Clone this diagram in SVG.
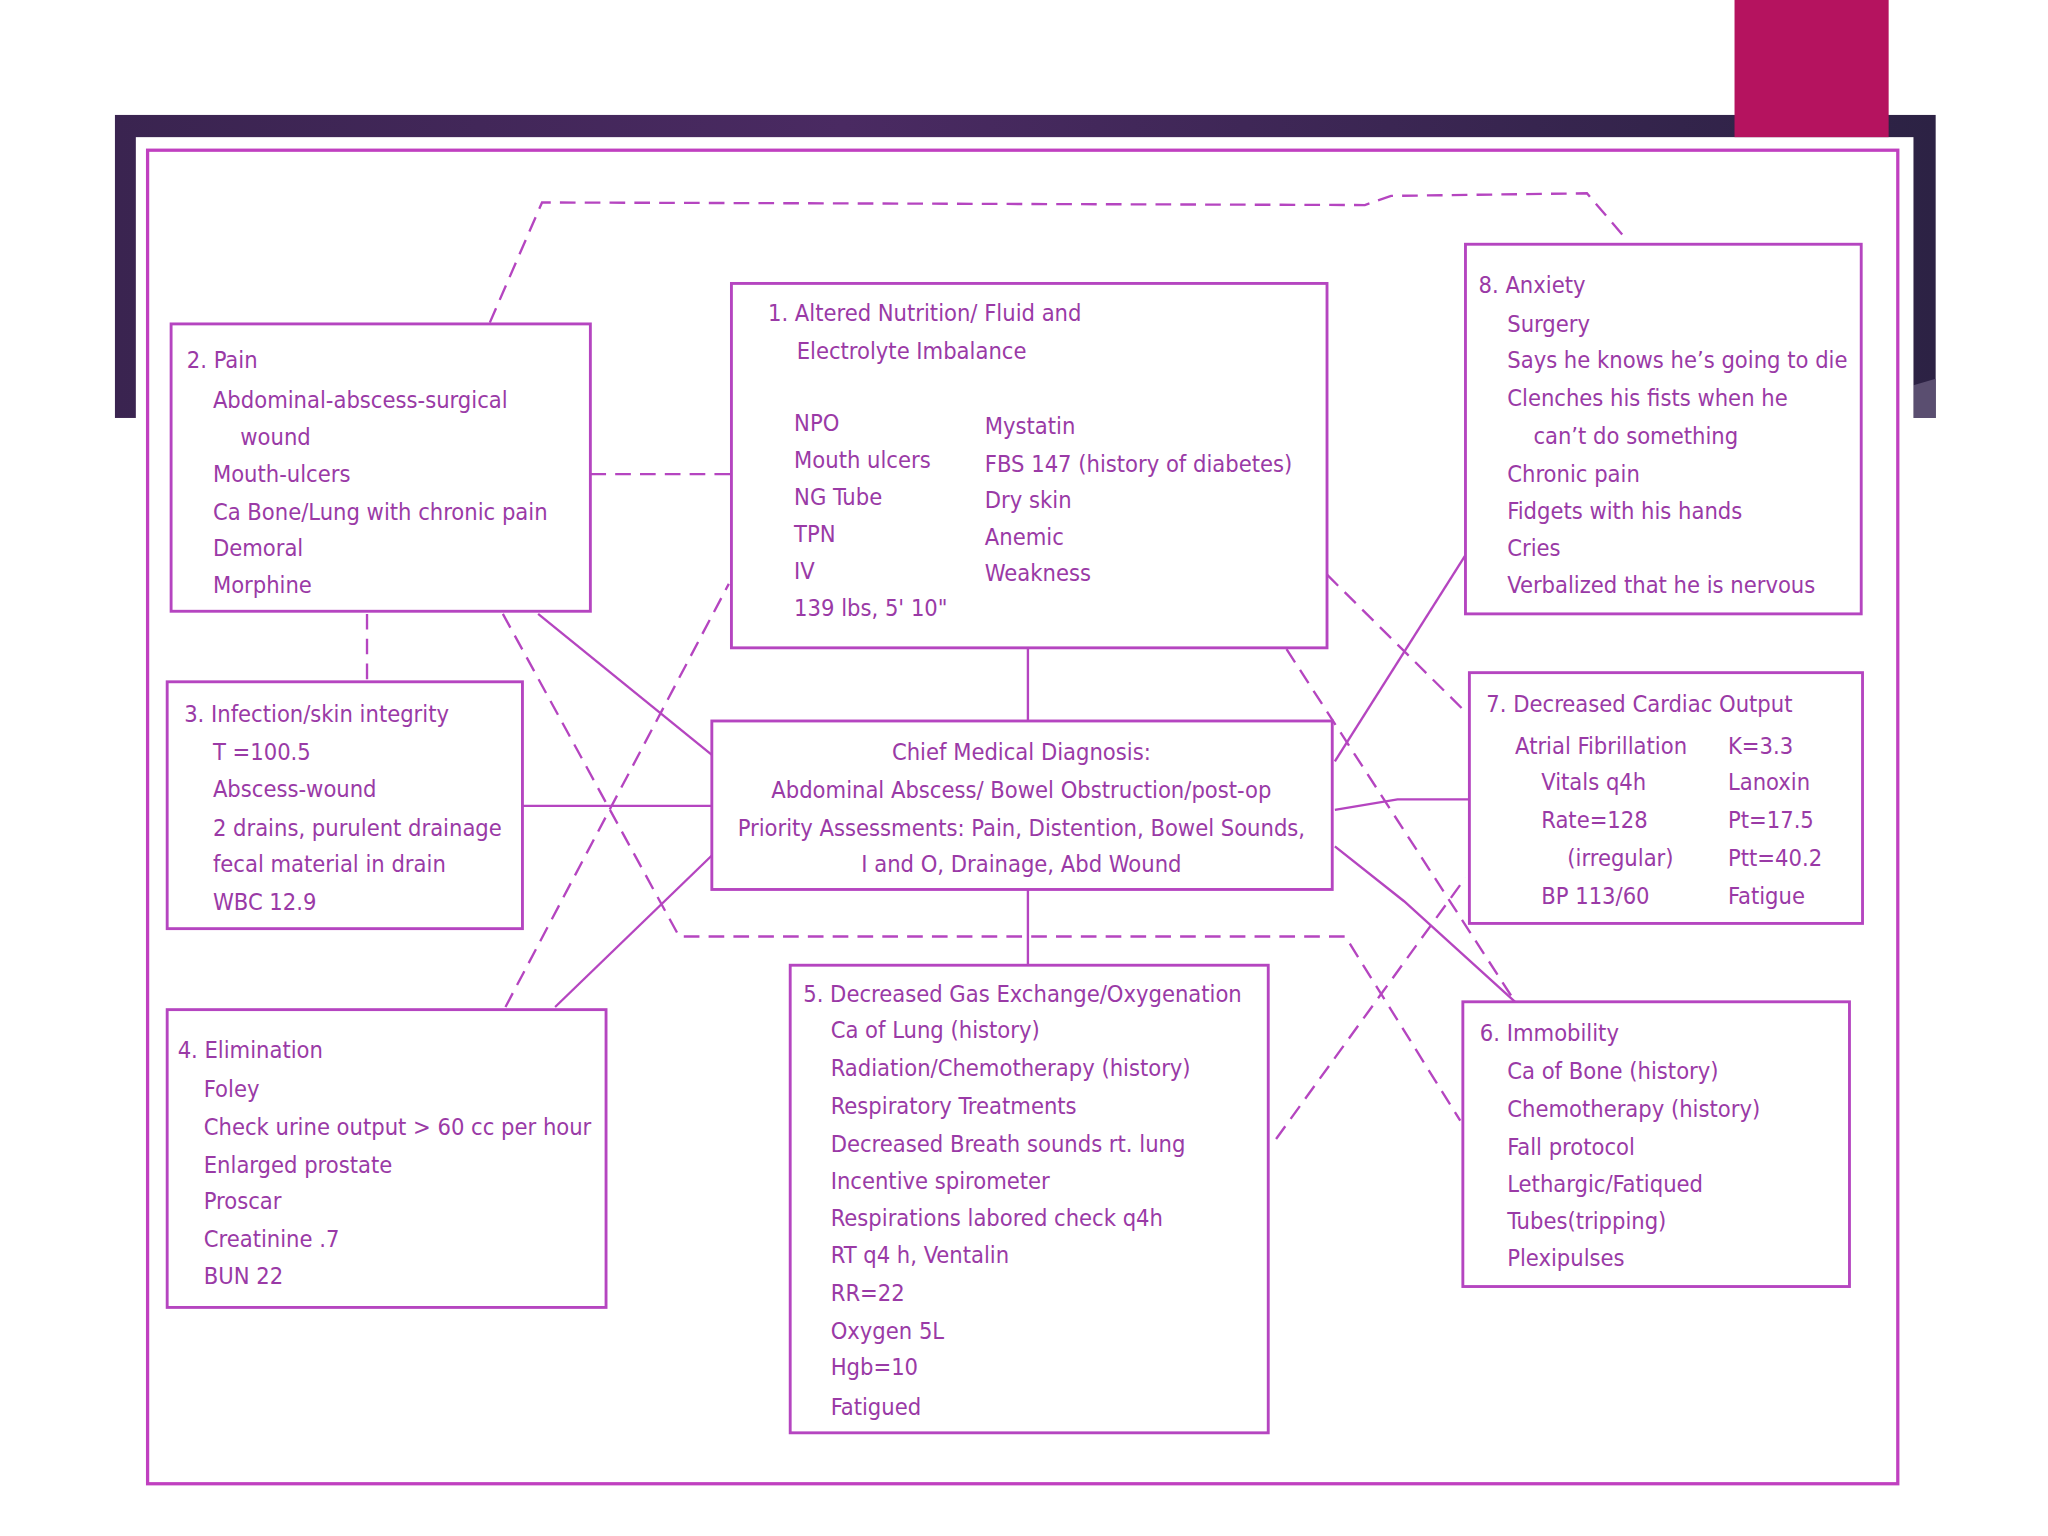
<svg xmlns="http://www.w3.org/2000/svg" width="2048" height="1536" viewBox="0 0 2048 1536">
<defs>
<linearGradient id="band" x1="0" y1="0" x2="1" y2="0">
<stop offset="0" stop-color="#3a2450"/><stop offset="0.4" stop-color="#4a2a62"/><stop offset="1" stop-color="#2c2244"/>
</linearGradient>
<style>
.box{fill:#fff;stroke:#b545c0;stroke-width:2.2}
.t{font-family:"Liberation Sans Narrow","DejaVu Sans Condensed",sans-serif;font-size:18px;fill:#9a3aa6}
.c{text-anchor:middle}
.s{fill:none;stroke:#b545c0;stroke-width:1.8}
.d{fill:none;stroke:#b545c0;stroke-width:1.8;stroke-dasharray:12 7}
</style>
</defs>
<rect width="2048" height="1536" fill="#fff"/>
<g transform="scale(1.30612)">
<rect x="88" y="88" width="1394" height="232" fill="url(#band)"/>
<polygon points="1465,295 1482,290 1482,320 1465,320" fill="#5a4e70"/>
<rect x="104" y="105" width="1361" height="1050" fill="#fff"/>
<rect x="1328" y="0" width="118" height="105" fill="#b5135f"/>
<rect x="113" y="115" width="1340" height="1021" fill="none" stroke="#c040c0" stroke-width="2.5"/>

<g id="connectors">
<polyline class="d" points="375,247 415,155 1045,157 1065,150 1215,148 1245,183"/>
<line class="d" x1="452" y1="363" x2="560" y2="363"/>
<line class="d" x1="281" y1="470" x2="281" y2="520"/>
<polyline class="d" points="385,470 520,717 1030,717 1118,858"/>
<line class="d" x1="387" y1="771" x2="558" y2="447"/>
<line class="d" x1="1016" y1="440" x2="1122" y2="545"/>
<line class="d" x1="985" y1="497" x2="1160" y2="767"/>
<line class="d" x1="977" y1="872" x2="1122" y2="672"/>
<line class="s" x1="412" y1="470" x2="545" y2="578"/>
<line class="s" x1="400" y1="617" x2="545" y2="617"/>
<line class="s" x1="425" y1="771" x2="545" y2="655"/>
<line class="s" x1="787" y1="496" x2="787" y2="552"/>
<line class="s" x1="787" y1="681" x2="787" y2="739"/>
<line class="s" x1="1022" y1="583" x2="1122" y2="425"/>
<polyline class="s" points="1022,620 1070,612 1125,612"/>
<polyline class="s" points="1022,648 1075,690 1160,767"/>
</g>

<g id="n1"><rect class="box" x="560" y="217" width="456" height="279"/>
<text class="t" x="588" y="246">1. Altered Nutrition/ Fluid and</text>
<text class="t" x="610" y="275">Electrolyte Imbalance</text>
<text class="t" x="608" y="330">NPO</text><text class="t" x="608" y="358">Mouth ulcers</text><text class="t" x="608" y="387">NG Tube</text><text class="t" x="608" y="415">TPN</text><text class="t" x="608" y="443">IV</text><text class="t" x="608" y="472">139 lbs, 5' 10"</text>
<text class="t" x="754" y="332">Mystatin</text><text class="t" x="754" y="361">FBS 147 (history of diabetes)</text><text class="t" x="754" y="389">Dry skin</text><text class="t" x="754" y="417">Anemic</text><text class="t" x="754" y="445">Weakness</text>
</g>
<g id="n2"><rect class="box" x="131" y="248" width="321" height="220"/>
<text class="t" x="143" y="282">2. Pain</text>
<text class="t" x="163" y="312">Abdominal-abscess-surgical</text>
<text class="t" x="184" y="341">wound</text>
<text class="t" x="163" y="369">Mouth-ulcers</text>
<text class="t" x="163" y="398">Ca Bone/Lung with chronic pain</text>
<text class="t" x="163" y="426">Demoral</text>
<text class="t" x="163" y="454">Morphine</text>
</g>
<g id="n3"><rect class="box" x="128" y="522" width="272" height="189"/>
<text class="t" x="141" y="553">3. Infection/skin integrity</text>
<text class="t" x="163" y="582">T =100.5</text>
<text class="t" x="163" y="610">Abscess-wound</text>
<text class="t" x="163" y="640">2 drains, purulent drainage</text>
<text class="t" x="163" y="668">fecal material in drain</text>
<text class="t" x="163" y="697">WBC 12.9</text>
</g>
<g id="n4"><rect class="box" x="128" y="773" width="336" height="228"/>
<text class="t" x="136" y="810">4. Elimination</text>
<text class="t" x="156" y="840">Foley</text>
<text class="t" x="156" y="869">Check urine output &gt; 60 cc per hour</text>
<text class="t" x="156" y="898">Enlarged prostate</text>
<text class="t" x="156" y="926">Proscar</text>
<text class="t" x="156" y="955">Creatinine .7</text>
<text class="t" x="156" y="983">BUN 22</text>
</g>
<g id="n5"><rect class="box" x="605" y="739" width="366" height="358"/>
<text class="t" x="615" y="767">5. Decreased Gas Exchange/Oxygenation</text>
<text class="t" x="636" y="795">Ca of Lung (history)</text>
<text class="t" x="636" y="824">Radiation/Chemotherapy (history)</text>
<text class="t" x="636" y="853">Respiratory Treatments</text>
<text class="t" x="636" y="882">Decreased Breath sounds rt. lung</text>
<text class="t" x="636" y="910">Incentive spirometer</text>
<text class="t" x="636" y="939">Respirations labored check q4h</text>
<text class="t" x="636" y="967">RT q4 h, Ventalin</text>
<text class="t" x="636" y="996">RR=22</text>
<text class="t" x="636" y="1025">Oxygen 5L</text>
<text class="t" x="636" y="1053">Hgb=10</text>
<text class="t" x="636" y="1083">Fatigued</text>
</g>
<g id="n6"><rect class="box" x="1120" y="767" width="296" height="218"/>
<text class="t" x="1133" y="797">6. Immobility</text>
<text class="t" x="1154" y="826">Ca of Bone (history)</text>
<text class="t" x="1154" y="855">Chemotherapy (history)</text>
<text class="t" x="1154" y="884">Fall protocol</text>
<text class="t" x="1154" y="913">Lethargic/Fatiqued</text>
<text class="t" x="1154" y="941">Tubes(tripping)</text>
<text class="t" x="1154" y="969">Plexipulses</text>
</g>
<g id="n7"><rect class="box" x="1125" y="515" width="301" height="192"/>
<text class="t" x="1138" y="545">7. Decreased Cardiac Output</text>
<text class="t" x="1160" y="577">Atrial Fibrillation</text>
<text class="t" x="1180" y="605">Vitals q4h</text>
<text class="t" x="1180" y="634">Rate=128</text>
<text class="t" x="1200" y="663">(irregular)</text>
<text class="t" x="1180" y="692">BP 113/60</text>
<text class="t" x="1323" y="577">K=3.3</text>
<text class="t" x="1323" y="605">Lanoxin</text>
<text class="t" x="1323" y="634">Pt=17.5</text>
<text class="t" x="1323" y="663">Ptt=40.2</text>
<text class="t" x="1323" y="692">Fatigue</text>
</g>
<g id="n8"><rect class="box" x="1122" y="187" width="303" height="283"/>
<text class="t" x="1132" y="224">8. Anxiety</text>
<text class="t" x="1154" y="254">Surgery</text>
<text class="t" x="1154" y="282">Says he knows he’s going to die</text>
<text class="t" x="1154" y="311">Clenches his fists when he</text>
<text class="t" x="1174" y="340">can’t do something</text>
<text class="t" x="1154" y="369">Chronic pain</text>
<text class="t" x="1154" y="397">Fidgets with his hands</text>
<text class="t" x="1154" y="426">Cries</text>
<text class="t" x="1154" y="454">Verbalized that he is nervous</text>
</g>
<g id="center"><rect class="box" x="545" y="552" width="475" height="129"/>
<text class="t c" x="782" y="582">Chief Medical Diagnosis:</text>
<text class="t c" x="782" y="611">Abdominal Abscess/ Bowel Obstruction/post-op</text>
<text class="t c" x="782" y="640">Priority Assessments: Pain, Distention, Bowel Sounds,</text>
<text class="t c" x="782" y="668">I and O, Drainage, Abd Wound</text>
</g>
</g>
</svg>
